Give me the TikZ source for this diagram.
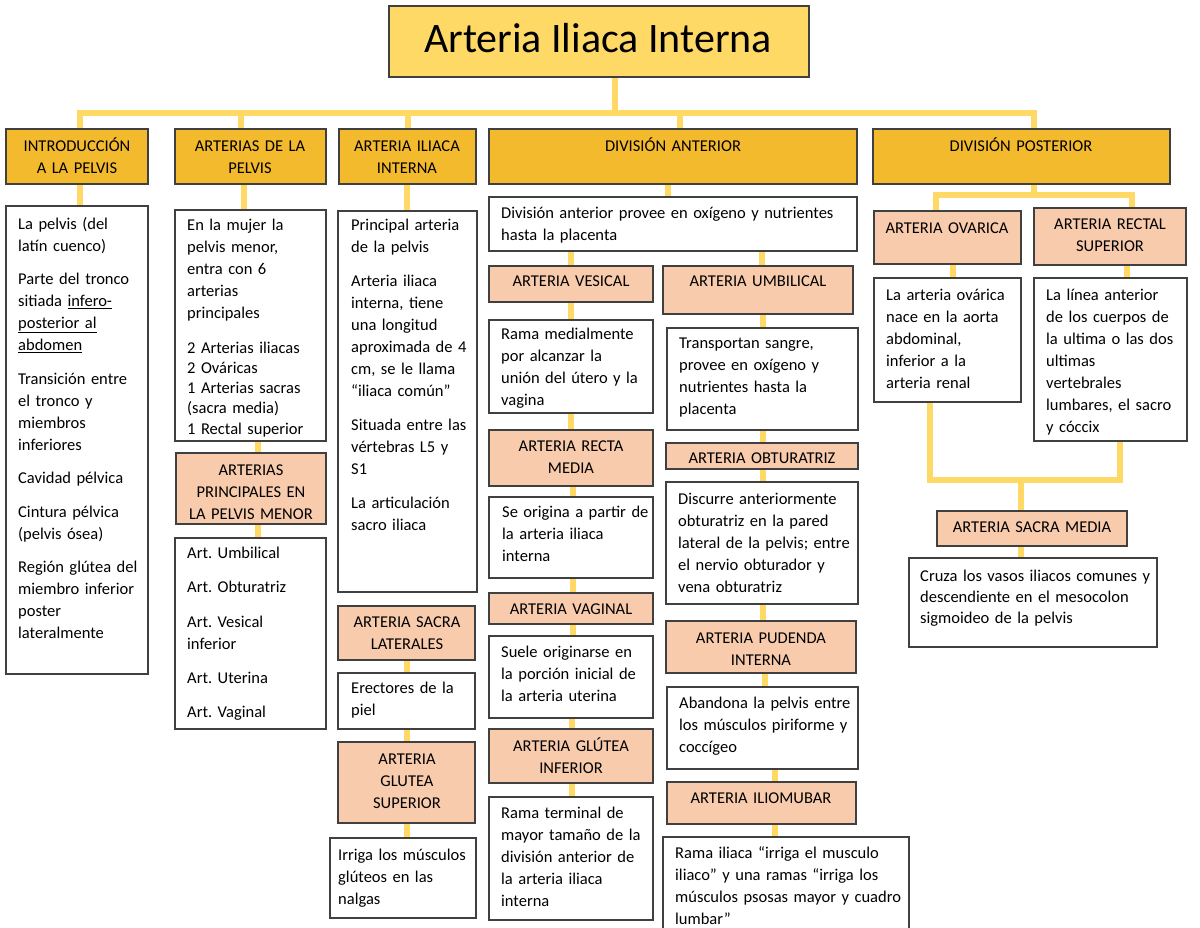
\documentclass[tikz,border=0pt]{standalone}
\usepackage{fontspec}
\setmainfont{Carlito}
\usetikzlibrary{fit,backgrounds}
\definecolor{ttlc}{HTML}{FFD966}
\definecolor{hdrc}{HTML}{F4BA2E}
\definecolor{salc}{HTML}{F8CBAD}
\definecolor{cnc}{HTML}{FFD966}
\definecolor{bd}{HTML}{404040}
\frenchspacing
\tikzset{
 boxbase/.style={draw=bd, line width=1.2pt, inner sep=0pt, outer sep=0pt},
 ttlbox/.style={boxbase, fill=ttlc},
 hdrbox/.style={boxbase, fill=hdrc},
 salbox/.style={boxbase, fill=salc},
 whtbox/.style={boxbase, fill=white},
 tl/.style={inner sep=0pt, anchor=base west, text width=500pt, align=left, font=\fontsize{16.5}{22}\selectfont\frenchspacing},
 tc/.style={inner sep=0pt, anchor=base, text width=320pt, align=center, font=\fontsize{16.5}{22}\selectfont\frenchspacing},
 conn/.style={draw=cnc, line width=6pt, line cap=rect},
}
\newcommand\mybox[6]{\node[#1, fit={(#3,#4) (#5,#6)}] (#2) {};}
\newcommand\vc[3]{\coordinate (vx) at (#3,0); \draw[conn] (#1.south -| vx) -- (#2.north -| vx);}
\begin{document}
\begin{tikzpicture}[x=1pt,y=-1pt]
\useasboundingbox (0,0) rectangle (1200,927);
\begin{pgfonlayer}{background}
\fill[white] (0,0) rectangle (1200,927);
\end{pgfonlayer}
% title
\mybox{ttlbox}{title}{389}{6}{809}{77}
\node[inner sep=0pt, anchor=base, font=\fontsize{42}{50}\selectfont] (titlet) at (598,52) {Arteria Iliaca Interna};
% headers
\mybox{hdrbox}{h1}{6}{129}{148}{184}
\node[tc] (h1t) at (77,151) {INTRODUCCIÓN\\ A LA PELVIS};
\mybox{hdrbox}{h2}{175}{129}{326}{184}
\node[tc] (h2t) at (250,151) {ARTERIAS DE LA\\ PELVIS};
\mybox{hdrbox}{h3}{339}{129}{476}{184}
\node[tc] (h3t) at (407,151) {ARTERIA ILIACA\\ INTERNA};
\mybox{hdrbox}{h4}{489}{129}{857}{184}
\node[tc] (h4t) at (673,151) {DIVISIÓN ANTERIOR};
\mybox{hdrbox}{h5}{873}{129}{1170}{184}
\node[tc] (h5t) at (1021,151) {DIVISIÓN POSTERIOR};
% column 1
\mybox{whtbox}{c1}{6}{206}{148}{674}
\node[tl] (c1t) at (18,229) {La pelvis (del\\ latín cuenco)\\[11.5pt]
Parte del tronco\\ sitiada \underline{infero-}\\ \underline{posterior al}\\ \underline{abdomen}\\[11.5pt]
Transición entre\\ el tronco y\\ miembros\\ inferiores\\[11.5pt]
Cavidad pélvica\\[11.5pt]
Cintura pélvica\\ (pelvis ósea)\\[11.5pt]
Región glútea del\\ miembro inferior\\ poster\\ lateralmente};
% column 2
\mybox{whtbox}{c2a}{175}{210}{326}{441}
\node[tl] (c2at) at (187,230) {En la mujer la\\ pelvis menor,\\ entra con 6\\ arterias\\ principales\\[13pt]
2 Arterias iliacas\\[-1.7pt] 2 Ováricas\\[-1.7pt] 1 Arterias sacras\\[-1.7pt] (sacra media)\\[-1.7pt] 1 Rectal superior};
\mybox{salbox}{c2b}{176}{453}{326}{524}
\node[tc] (c2bt) at (251,475) {ARTERIAS\\ PRINCIPALES EN\\ LA PELVIS MENOR};
\mybox{whtbox}{c2c}{175}{538}{326}{729}
\node[tl] (c2ct) at (187,558) {Art. Umbilical\\[12.5pt] Art. Obturatriz\\[12.5pt] Art. Vesical\\ inferior\\[12pt] Art. Uterina\\[12pt] Art. Vaginal};
% column 3
\mybox{whtbox}{c3a}{338}{211}{477}{592}
\node[tl] (c3at) at (351,230) {Principal arteria\\ de la pelvis\\[12pt]
Arteria iliaca\\ interna, tiene\\ una longitud\\ aproximada de 4\\ cm, se le llama\\ “iliaca común”\\[12pt]
Situada entre las\\ vértebras L5 y\\ S1\\[12pt]
La articulación\\ sacro iliaca};
\mybox{salbox}{c3b}{338}{606}{475}{660}
\node[tc] (c3bt) at (407,627) {ARTERIA SACRA\\ LATERALES};
\mybox{whtbox}{c3c}{338}{673}{475}{729}
\node[tl] (c3ct) at (351,693) {Erectores de la\\ piel};
\mybox{salbox}{c3d}{338}{742}{475}{823}
\node[tc] (c3dt) at (407,764) {ARTERIA\\ GLUTEA\\ SUPERIOR};
\mybox{whtbox}{c3e}{330}{838}{476}{918}
\node[tl] (c3et) at (338,860) {Irriga los músculos\\ glúteos en las\\ nalgas};
% column 4 (division anterior)
\mybox{whtbox}{d0}{489}{197}{857}{251}
\node[tl] (d0t) at (501,218) {División anterior provee en oxígeno y nutrientes\\ hasta la placenta};
\mybox{salbox}{v1}{489}{266}{653}{302}
\node[tc] (v1t) at (571,286) {ARTERIA VESICAL};
\mybox{salbox}{u1}{663}{266}{853}{314}
\node[tc] (u1t) at (758,286) {ARTERIA UMBILICAL};
\mybox{whtbox}{v2}{489}{320}{653}{413}
\node[tl] (v2t) at (501,339) {Rama medialmente\\ por alcanzar la\\ unión del útero y la\\ vagina};
\mybox{whtbox}{u2}{667}{328}{858}{430}
\node[tl] (u2t) at (679,348) {Transportan sangre,\\ provee en oxígeno y\\ nutrientes hasta la\\ placenta};
\mybox{salbox}{v3}{489}{430}{653}{486}
\node[tc] (v3t) at (571,451) {ARTERIA RECTA\\ MEDIA};
\mybox{salbox}{u3}{666}{443}{858}{469}
\node[tc] (u3t) at (762,463) {ARTERIA OBTURATRIZ};
\mybox{whtbox}{v4}{489}{497}{653}{578}
\node[tl] (v4t) at (502,517) {Se origina a partir de\\ la arteria iliaca\\ interna};
\mybox{whtbox}{u4}{666}{482}{858}{604}
\node[tl] (u4t) at (678,504) {Discurre anteriormente\\ obturatriz en la pared\\ lateral de la pelvis; entre\\ el nervio obturador y\\ vena obturatriz};
\mybox{salbox}{v5}{489}{593}{653}{624}
\node[tc] (v5t) at (571,614) {ARTERIA VAGINAL};
\mybox{whtbox}{v6}{489}{636}{653}{718}
\node[tl] (v6t) at (501,657) {Suele originarse en\\ la porción inicial de\\ la arteria uterina};
\mybox{salbox}{u5}{666}{621}{856}{673}
\node[tc] (u5t) at (761,643) {ARTERIA PUDENDA\\ INTERNA};
\mybox{whtbox}{u6}{667}{687}{858}{769}
\node[tl] (u6t) at (679,708) {Abandona la pelvis entre\\ los músculos piriforme y\\ coccígeo};
\mybox{salbox}{v7}{489}{729}{653}{783}
\node[tc] (v7t) at (571,751) {ARTERIA GLÚTEA\\ INFERIOR};
\mybox{whtbox}{v8}{489}{797}{653}{920}
\node[tl] (v8t) at (501,818) {Rama terminal de\\ mayor tamaño de la\\ división anterior de\\ la arteria iliaca\\ interna};
\mybox{salbox}{u7}{667}{782}{856}{824}
\node[tc] (u7t) at (761,803) {ARTERIA ILIOMUBAR};
\mybox{whtbox}{u8}{663}{837}{909}{945}
\node[tl] (u8t) at (675,858) {Rama iliaca “irriga el musculo\\ iliaco” y una ramas “irriga los\\ músculos psosas mayor y cuadro\\ lumbar”};
% column 5 (division posterior)
\mybox{salbox}{p1}{874}{211}{1021}{264}
\node[tc] (p1t) at (947,233) {ARTERIA OVARICA};
\mybox{salbox}{p2}{1034}{208}{1186}{265}
\node[tc] (p2t) at (1110,229) {ARTERIA RECTAL\\ SUPERIOR};
\mybox{whtbox}{p3}{874}{278}{1021}{402}
\node[tl] (p3t) at (886,300) {La arteria ovárica\\ nace en la aorta\\ abdominal,\\ inferior a la\\ arteria renal};
\mybox{whtbox}{p4}{1034}{278}{1187}{441}
\node[tl] (p4t) at (1046,300) {La línea anterior\\ de los cuerpos de\\ la ultima o las dos\\ ultimas\\ vertebrales\\ lumbares, el sacro\\ y cóccix};
\mybox{salbox}{p5}{937}{511}{1127}{546}
\node[tc] (p5t) at (1032,532) {ARTERIA SACRA MEDIA};
\mybox{whtbox}{p6}{909}{558}{1157}{647}
\node[tl, font=\fontsize{16.5}{21}\selectfont] (p6t) at (920,581) {Cruza los vasos iliacos comunes y\\ descendiente en el mesocolon\\ sigmoideo de la pelvis};
% connectors
\begin{pgfonlayer}{background}
\coordinate (bL) at (80,113);
\coordinate (bR) at (1034,113);
\coordinate (bT) at (615,113);
\draw[conn] (title.south -| bT) -- (bT);
\draw[conn] (h1.north -| bL) -- (bL) -- (bR) -- (h5.north -| bR);
\coordinate (b2) at (241,113); \draw[conn] (b2) -- (h2.north -| b2);
\coordinate (b3) at (408,113); \draw[conn] (b3) -- (h3.north -| b3);
\coordinate (b4) at (680,113); \draw[conn] (b4) -- (h4.north -| b4);
\vc{h1}{c1}{80}
\vc{h2}{c2a}{244}
\vc{c2a}{c2b}{258}
\vc{c2b}{c2c}{258}
\vc{h3}{c3a}{407}
\vc{c3b}{c3c}{407}
\vc{c3c}{c3d}{407}
\vc{c3d}{c3e}{407}
\vc{h4}{d0}{668}
\vc{d0}{v1}{571}
\vc{d0}{u1}{762}
\vc{v1}{v2}{571}
\vc{u1}{u2}{763}
\vc{v2}{v3}{571}
\vc{u2}{u3}{763}
\vc{v3}{v4}{573}
\vc{u3}{u4}{763}
\vc{v4}{v5}{573}
\vc{v5}{v6}{573}
\vc{u4}{u5}{763}
\vc{u5}{u6}{765}
\vc{v6}{v7}{572}
\vc{v7}{v8}{572}
\vc{u6}{u7}{775}
\vc{u7}{u8}{775}
\coordinate (pL) at (936,195);
\coordinate (pR) at (1132,195);
\coordinate (pM) at (1034,195);
\draw[conn] (h5.south -| pM) -- (pM);
\draw[conn] (p1.north -| pL) -- (pL) -- (pR) -- (p2.north -| pR);
\vc{p1}{p3}{953}
\vc{p2}{p4}{1127}
\coordinate (qL) at (930,480);
\coordinate (qR) at (1120,480);
\coordinate (qM) at (1021,480);
\draw[conn] (p3.south -| qL) -- (qL) -- (qR) -- (p4.south -| qR);
\draw[conn] (qM) -- (p5.north -| qM);
\vc{p5}{p6}{1021}
\end{pgfonlayer}
\end{tikzpicture}
\end{document}
